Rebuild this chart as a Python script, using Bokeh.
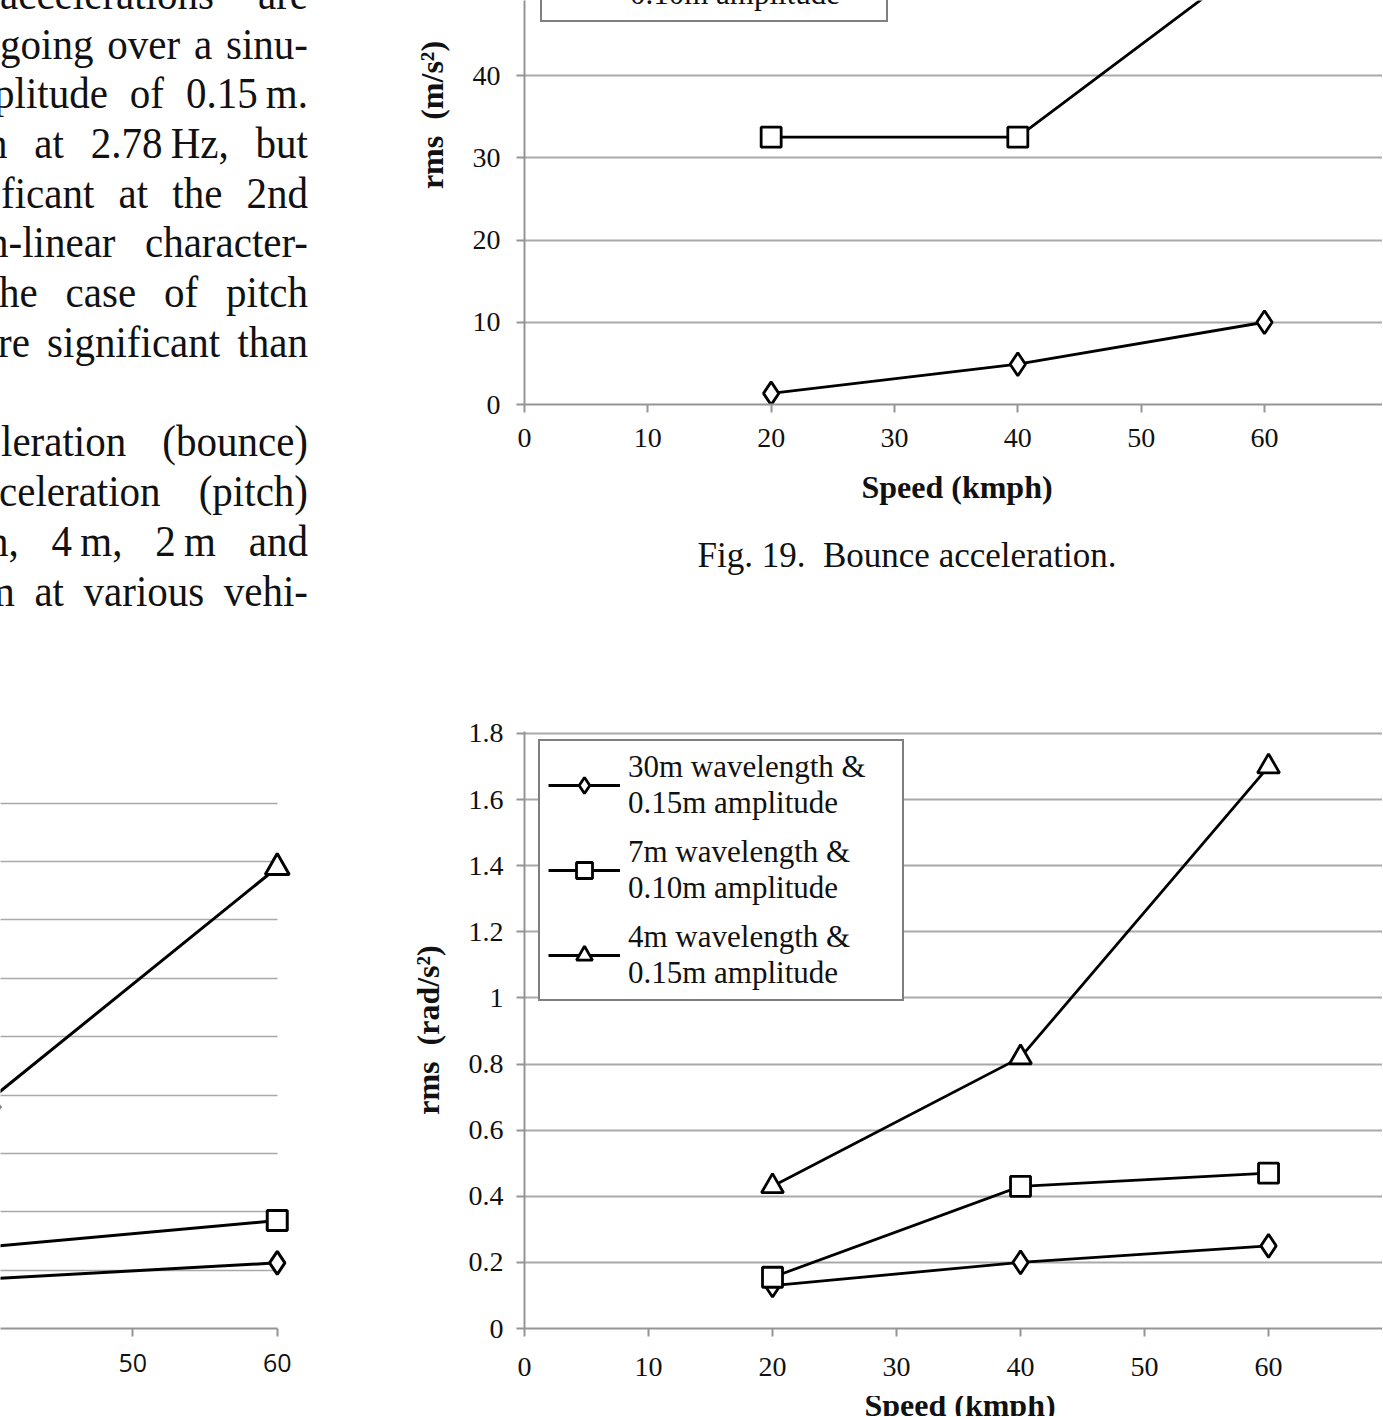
from bokeh.plotting import figure
from bokeh.layouts import column, row
from bokeh.models import Div, Legend, LegendItem, FixedTicker, Range1d
from bokeh.embed import file_html
from bokeh.resources import INLINE

# ---------------- data ----------------
speeds = [20, 40, 60]

# Fig. 19 - bounce acceleration rms (m/s^2)
bounce_30m = [1.35, 4.9, 10.0]
bounce_7m = [32.5, 32.5, 55.0]

# Fig. 20 - pitch acceleration rms (rad/s^2)
pitch_30m = [0.13, 0.20, 0.25]
pitch_7m = [0.155, 0.43, 0.47]
pitch_4m = [0.43, 0.82, 1.70]

# partially visible chart (bottom left)
left_speeds = [40, 60]
left_30m = [0.17, 0.225]
left_7m = [0.28, 0.37]
left_4m = [0.78, 1.58]

x_ticks = [0, 10, 20, 30, 40, 50, 60, 70]
left_x_ticks = [40, 50, 60]
bounce_ticks = [0, 10, 20, 30, 40, 50]
pitch_ticks = [0, 0.2, 0.4, 0.6, 0.8, 1, 1.2, 1.4, 1.6, 1.8]
pitch_tick_labels = ["0", "0.2", "0.4", "0.6", "0.8", "1", "1.2", "1.4", "1.6", "1.8"]

lab_30m = "30m wavelength &\n0.15m amplitude"
lab_7m = "7m wavelength &\n0.10m amplitude"
lab_4m = "4m wavelength &\n0.15m amplitude"

x_title = "Speed (kmph)"
y_title_bounce = "rms&nbsp;&nbsp;(m/s\u00b2)"
y_title_pitch = "rms&nbsp;&nbsp;(rad/s\u00b2)"
caption = "Fig. 19.&nbsp; Bounce acceleration."

para_lines = [
    "accelerations are",
    "going over a sinu-",
    "plitude of 0.15\u202fm.",
    "n at 2.78\u202fHz, but",
    "ficant at the 2nd",
    "n-linear character-",
    "he case of pitch",
    "re significant than",
    "",
    "leration (bounce)",
    "celeration (pitch)",
    "n, 4\u202fm, 2\u202fm and",
    "m at various vehi-",
]
para_left = [0, 0, -6, -13, 1, -12, -1, -2, 0, 1, -1, -12, -17]

SERIF = "Liberation Serif"
GRID = "#a9a9a9"
AXIS = "#959595"
TITLE_CSS = ("position:absolute;white-space:nowrap;font-family:'Liberation Serif',serif;"
             "font-weight:bold;font-size:32px;color:#111;line-height:36px;")


def style(p, tick_font=SERIF, tick_size="28px"):
    p.outline_line_color = None
    p.xgrid.visible = False
    p.ygrid.grid_line_color = GRID
    p.ygrid.grid_line_width = 2
    for ax in (p.xaxis[0], p.yaxis[0]):
        ax.axis_line_color = AXIS
        ax.axis_line_width = 2
        ax.major_tick_line_color = AXIS
        ax.major_tick_line_width = 2
        ax.major_tick_out = 8
        ax.major_tick_in = 0
        ax.minor_tick_line_color = None
        ax.major_label_text_font = tick_font
        ax.major_label_text_font_size = tick_size
        ax.major_label_text_color = "#111111"


def series(p, x, y, marker, size, lw=2.8):
    ln = p.line(x, y, line_color="black", line_width=lw)
    sc = p.scatter(x, y, marker=marker, size=size, fill_color="white",
                   line_color="black", line_width=lw)
    return [ln, sc]


def make_legend(items, loc, label_width):
    leg = Legend(items=items, location=loc)
    leg.border_line_color = "black"
    leg.border_line_width = 2.5
    leg.background_fill_color = "white"
    leg.background_fill_alpha = 1
    leg.padding = 8
    leg.spacing = 13
    leg.margin = 0
    leg.glyph_width = 72
    leg.glyph_height = 40
    leg.label_standoff = 8
    leg.label_width = label_width
    leg.label_text_font = SERIF
    leg.label_text_font_size = "31px"
    leg.label_text_line_height = 1.15
    leg.label_text_color = "#111111"
    return leg


def text_div(width, height, parts):
    inner = "".join(parts)
    html = ('<div style="position:relative;width:%dpx;height:%dpx;overflow:hidden;">%s</div>'
            % (width, height, inner))
    return Div(text=html, width=width, height=height, margin=0)


def centered(text, cx, cy, extra="", rotate=False):
    tr = "translate(-50%,-50%)" + (" rotate(-90deg)" if rotate else "")
    return ('<div style="%sleft:%dpx;top:%dpx;transform:%s;%s">%s</div>'
            % (TITLE_CSS, cx, cy, tr, extra, text))


# ---------------- paragraph (top left) ----------------
pl = []
pl.append('<div style="position:absolute;left:0;top:0;width:330px;height:620px;'
          'font-family:\'Liberation Serif\',serif;font-size:41px;color:#111;">')
for k, (txt, left) in enumerate(zip(para_lines, para_left)):
    if not txt:
        continue
    base = 8.5 + 49.75 * k
    tp = base - 38.8
    pl.append('<div style="position:absolute;left:%dpx;top:%.1fpx;width:%dpx;height:50px;'
              'line-height:50px;text-align:justify;text-align-last:justify;'
              'transform:scaleY(1.1);transform-origin:0 38.8px;">%s</div>'
              % (left, tp, 308 - left, txt))
pl.append('</div>')
para = text_div(330, 620, pl)

# ---------------- Fig. 19 (top right) ----------------
top = figure(width=922, height=470, x_range=Range1d(0, 69.57), y_range=Range1d(0, 49.12),
             output_backend="svg", toolbar_location=None,
             min_border_left=64, min_border_right=0, min_border_top=0, min_border_bottom=66)
style(top)
top.xaxis.ticker = FixedTicker(ticks=x_ticks)
top.yaxis.ticker = FixedTicker(ticks=bounce_ticks)
top.ygrid.ticker = FixedTicker(ticks=bounce_ticks)
top.xaxis.major_label_standoff = 16
top.yaxis.major_label_standoff = 16
r30 = series(top, speeds, bounce_30m, "diamond", 23)
r7 = series(top, speeds, bounce_7m, "square", 20)
top.add_layout(make_legend([LegendItem(label=lab_30m, renderers=r30),
                            LegendItem(label=lab_7m, renderers=r7)], (16, 382), 248))

ytitle1 = text_div(130, 470, [centered(y_title_bounce, 102, 115, rotate=True)])
below1 = text_div(1052, 150, [
    centered(x_title, 627, 17),
    '<div style="position:absolute;left:177px;top:61px;width:800px;height:50px;'
    'line-height:50px;text-align:center;font-family:\'Liberation Serif\',serif;'
    'font-size:35px;color:#111;white-space:nowrap;">' + caption + '</div>',
])

# ---------------- partial chart (bottom left) ----------------
bl = figure(width=330, height=776, x_range=Range1d(40.84, 61.61), y_range=Range1d(0, 2.046),
            output_backend="svg", toolbar_location=None,
            min_border_left=0, min_border_right=30, min_border_top=111, min_border_bottom=68)
style(bl, tick_font="Open Sans", tick_size="25px")
bl.yaxis.visible = False
bl.xaxis.ticker = FixedTicker(ticks=left_x_ticks)
bl.ygrid.ticker = FixedTicker(ticks=pitch_ticks)
bl.xaxis.bounds = (40, 60)
bl.ygrid.cross_bounds = (40, 60)
bl.ygrid.grid_line_width = 1.6
bl.xaxis.major_label_standoff = 17
series(bl, left_speeds, left_30m, "diamond", 23, lw=3)
series(bl, left_speeds, left_7m, "square", 20, lw=3)
series(bl, left_speeds, left_4m, "triangle", 24, lw=3)

# ---------------- Fig. 20 pitch (bottom right) ----------------
pt = figure(width=922, height=776, x_range=Range1d(0, 69.19), y_range=Range1d(0, 1.806),
            output_backend="svg", toolbar_location=None,
            min_border_left=64, min_border_right=0, min_border_top=111, min_border_bottom=68)
style(pt)
pt.xaxis.ticker = FixedTicker(ticks=x_ticks)
pt.yaxis.ticker = FixedTicker(ticks=pitch_ticks)
pt.ygrid.ticker = FixedTicker(ticks=pitch_ticks)
pt.yaxis.major_label_overrides = {t: s for t, s in zip(pitch_ticks, pitch_tick_labels)}
pt.xaxis.major_label_standoff = 21
pt.yaxis.major_label_standoff = 13
p30 = series(pt, speeds, pitch_30m, "diamond", 23)
p7 = series(pt, speeds, pitch_7m, "square", 20)
p4 = series(pt, speeds, pitch_4m, "triangle", 22)
pt.add_layout(make_legend([LegendItem(label=lab_30m, renderers=p30),
                           LegendItem(label=lab_7m, renderers=p7),
                           LegendItem(label=lab_4m, renderers=p4)], (14, 327), 266))

ytitle2 = text_div(130, 776, [centered(y_title_pitch, 98, 410, rotate=True)])
below2 = text_div(1382, 20, [centered(x_title, 960, 9)])

layout = column(
    row(para, column(row(ytitle1, top), below1)),
    column(row(bl, ytitle2, pt), below2),
)

open("out.html", "w").write(file_html(layout, INLINE))
